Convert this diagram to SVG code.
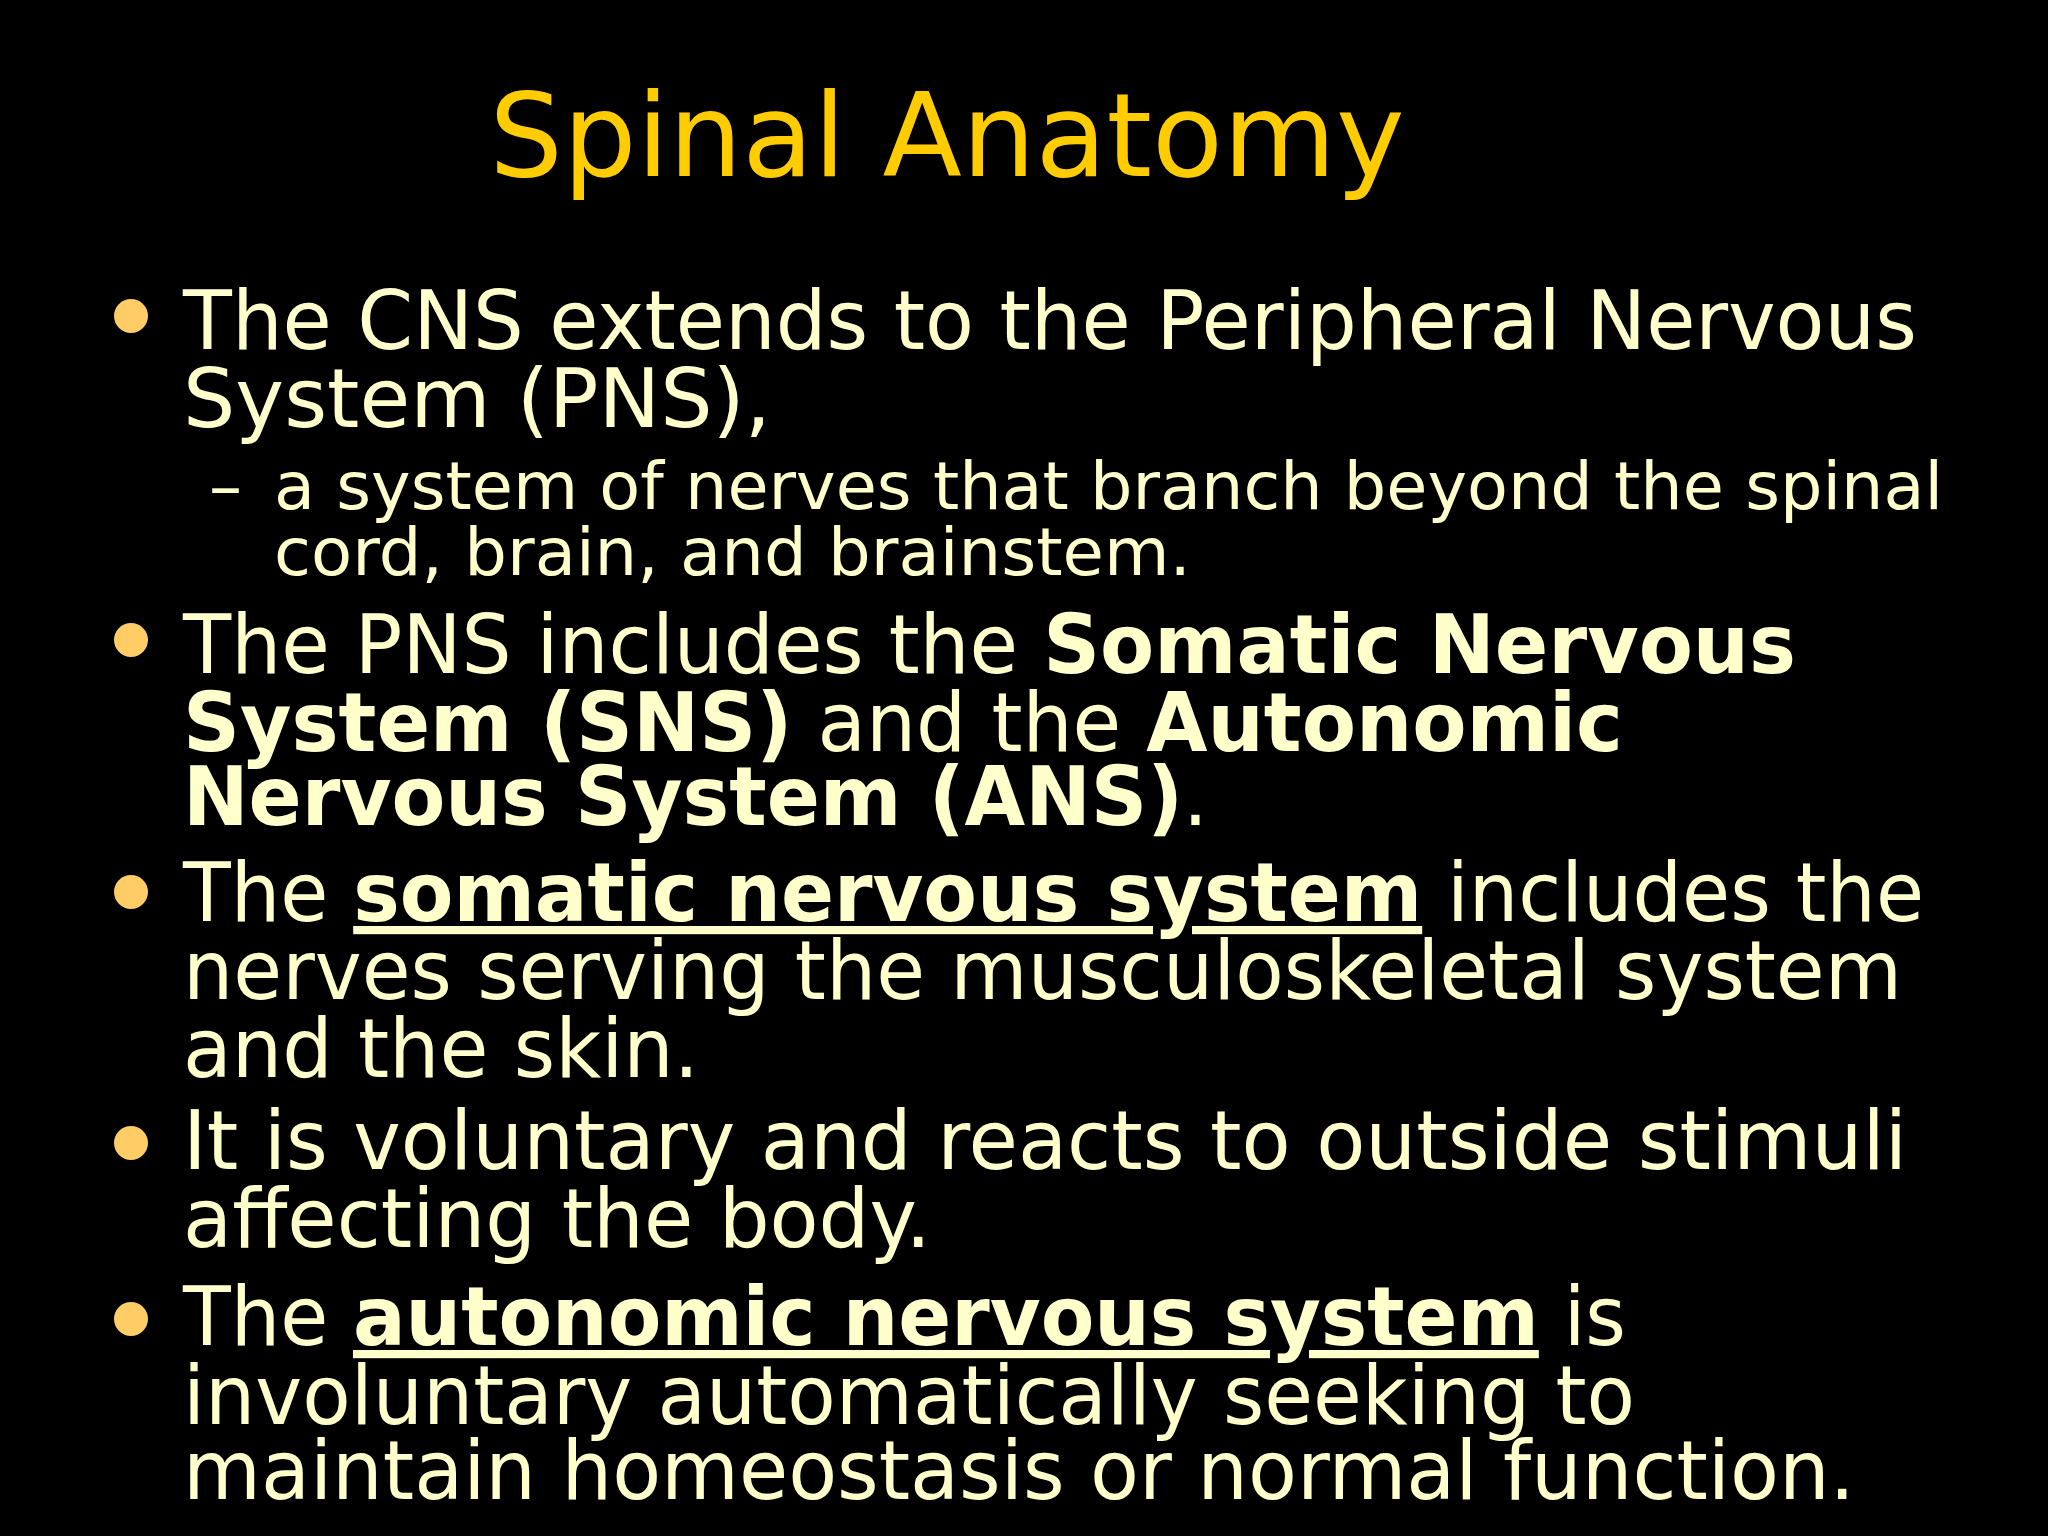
<svg xmlns="http://www.w3.org/2000/svg" width="2048" height="1536" viewBox="0 0 2048 1536">
<style>
.t{font-family:"DejaVu Sans","Verdana",sans-serif;font-size:82px;fill:#FFFFCC}
.s{font-family:"DejaVu Sans","Verdana",sans-serif;font-size:66px;fill:#FFFFCC}
.b{font-weight:bold}
.u{font-weight:bold;text-decoration:underline}
.d{fill:#FFCC66}
</style>
<rect width="2048" height="1536" fill="#000"/>
<text x="947" y="176" text-anchor="middle" font-family="DejaVu Sans, sans-serif" font-size="116" fill="#FFCC00">Spinal Anatomy</text>
<g id="bullets">
<circle class="d" cx="131" cy="316" r="17"/>
<circle class="d" cx="131" cy="640" r="17"/>
<circle class="d" cx="131" cy="892" r="17"/>
<circle class="d" cx="131" cy="1143" r="17"/>
<circle class="d" cx="131" cy="1319" r="17"/>
</g>
<g id="body">
<text class="t" x="183" y="349" textLength="1734" lengthAdjust="spacingAndGlyphs">The CNS extends to the Peripheral Nervous</text>
<text class="t" x="183" y="427" textLength="588" lengthAdjust="spacingAndGlyphs">System (PNS),</text>
<text class="s" x="209" y="509">–</text>
<text class="s" x="274" y="509" textLength="1669" lengthAdjust="spacingAndGlyphs">a system of nerves that branch beyond the spinal</text>
<text class="s" x="274" y="575" textLength="917" lengthAdjust="spacingAndGlyphs">cord, brain, and brainstem.</text>
<text class="t" x="183" y="673" textLength="1613" lengthAdjust="spacingAndGlyphs">The PNS includes the <tspan class="b">Somatic Nervous</tspan></text>
<text class="t" x="183" y="751" textLength="1440" lengthAdjust="spacingAndGlyphs"><tspan class="b">System (SNS)</tspan> and the <tspan class="b">Autonomic</tspan></text>
<text class="t" x="183" y="825" textLength="1025" lengthAdjust="spacingAndGlyphs"><tspan class="b">Nervous System (ANS)</tspan>.</text>
<text class="t" x="183" y="921" textLength="1741" lengthAdjust="spacingAndGlyphs">The <tspan class="u">somatic nervous system</tspan> includes the</text>
<text class="t" x="183" y="999" textLength="1719" lengthAdjust="spacingAndGlyphs">nerves serving the musculoskeletal system</text>
<text class="t" x="183" y="1077" textLength="516" lengthAdjust="spacingAndGlyphs">and the skin.</text>
<text class="t" x="183" y="1169" textLength="1724" lengthAdjust="spacingAndGlyphs">It is voluntary and reacts to outside stimuli</text>
<text class="t" x="183" y="1247" textLength="748" lengthAdjust="spacingAndGlyphs">affecting the body.</text>
<text class="t" x="183" y="1345" textLength="1443" lengthAdjust="spacingAndGlyphs">The <tspan class="u">autonomic nervous system</tspan> is</text>
<text class="t" x="183" y="1424" textLength="1452" lengthAdjust="spacingAndGlyphs">involuntary automatically seeking to</text>
<text class="t" x="183" y="1499" textLength="1672" lengthAdjust="spacingAndGlyphs">maintain homeostasis or normal function.</text>
</g>
</svg>
